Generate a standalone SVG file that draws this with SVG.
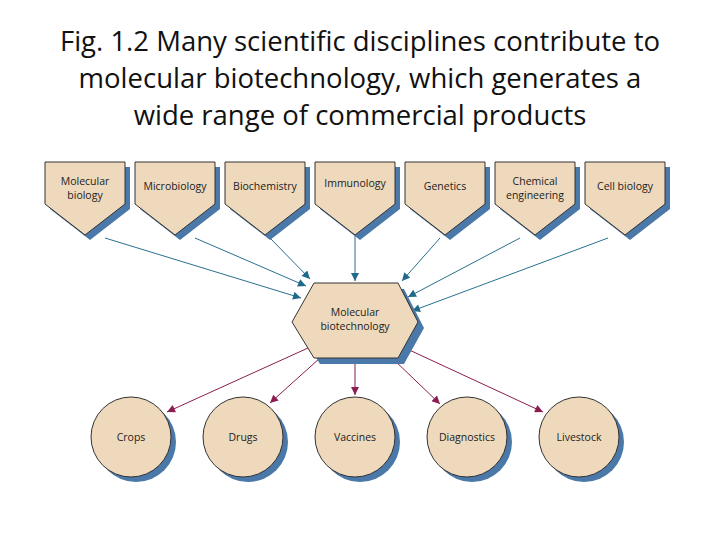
<svg xmlns="http://www.w3.org/2000/svg" width="720" height="540" viewBox="0 0 720 540">
<style>
.t{font-family:"Open Sans","Liberation Sans",sans-serif;font-size:27.5px;fill:#111;text-anchor:middle}
.l{font-family:"Open Sans","Liberation Sans",sans-serif;font-size:10.5px;fill:#222;text-anchor:middle}
.f{fill:#efd9bc;stroke:#333;stroke-width:1}
.s{fill:#4a78a8}
.b{stroke:#2a6f90;stroke-width:1;fill:none;marker-end:url(#ab)}
.m{stroke:#8b1d50;stroke-width:1;fill:none;marker-end:url(#am)}
</style>
<defs>
<marker id="ab" viewBox="0 0 10 10" refX="10" refY="5" markerWidth="10" markerHeight="8" orient="auto" markerUnits="userSpaceOnUse"><path d="M0,0L10,5L0,10z" fill="#1f6a8a"/></marker>
<marker id="am" viewBox="0 0 10 10" refX="10" refY="5" markerWidth="10" markerHeight="8" orient="auto" markerUnits="userSpaceOnUse"><path d="M0,0L10,5L0,10z" fill="#8b1d50"/></marker>
<path id="pent" d="M-40,0H40V42L0,73L-40,42Z"/>
</defs>
<text class="t" x="360" y="51">Fig. 1.2 Many scientific disciplines contribute to</text>
<text class="t" x="360" y="88">molecular biotechnology, which generates a</text>
<text class="t" x="360" y="125">wide range of commercial products</text>
<g id="connectors">
<line class="b" x1="105" y1="238" x2="301" y2="298"/>
<line class="b" x1="195" y1="238" x2="306" y2="286"/>
<line class="b" x1="270" y1="238" x2="310" y2="279"/>
<line class="b" x1="355" y1="236" x2="355" y2="281"/>
<line class="b" x1="440" y1="238" x2="402" y2="281"/>
<line class="b" x1="520" y1="238" x2="408" y2="297"/>
<line class="b" x1="608" y1="238" x2="412" y2="311"/>
<line class="m" x1="308" y1="348" x2="167" y2="412"/>
<line class="m" x1="320" y1="358" x2="270" y2="403"/>
<line class="m" x1="355" y1="360" x2="355" y2="395"/>
<line class="m" x1="392" y1="358" x2="440" y2="404"/>
<line class="m" x1="405" y1="348" x2="543" y2="412"/>
</g>
<g id="n1"><use href="#pent" class="s" x="90" y="167"/><use href="#pent" class="f" x="85" y="162"/><text class="l" x="85" y="185">Molecular</text><text class="l" x="85" y="199">biology</text></g>
<g id="n2"><use href="#pent" class="s" x="180" y="167"/><use href="#pent" class="f" x="175" y="162"/><text class="l" x="175" y="190">Microbiology</text></g>
<g id="n3"><use href="#pent" class="s" x="270" y="167"/><use href="#pent" class="f" x="265" y="162"/><text class="l" x="265" y="190">Biochemistry</text></g>
<g id="n4"><use href="#pent" class="s" x="360" y="167"/><use href="#pent" class="f" x="355" y="162"/><text class="l" x="355" y="187">Immunology</text></g>
<g id="n5"><use href="#pent" class="s" x="450" y="167"/><use href="#pent" class="f" x="445" y="162"/><text class="l" x="445" y="190">Genetics</text></g>
<g id="n6"><use href="#pent" class="s" x="540" y="167"/><use href="#pent" class="f" x="535" y="162"/><text class="l" x="535" y="185">Chemical</text><text class="l" x="535" y="199">engineering</text></g>
<g id="n7"><use href="#pent" class="s" x="630" y="167"/><use href="#pent" class="f" x="625" y="162"/><text class="l" x="625" y="190">Cell biology</text></g>
<g id="hub">
<path class="s" d="M320,289H404L424,328L404,364H320L298,328Z"/>
<path class="f" d="M314,283H398L418,322L398,358H314L292,322Z"/>
<text class="l" x="355" y="316">Molecular</text><text class="l" x="355" y="330">biotechnology</text>
</g>
<g id="c1"><circle class="s" cx="136" cy="442" r="40"/><circle class="f" cx="131" cy="437" r="40"/><text class="l" x="131" y="441">Crops</text></g>
<g id="c2"><circle class="s" cx="248" cy="442" r="40"/><circle class="f" cx="243" cy="437" r="40"/><text class="l" x="243" y="441">Drugs</text></g>
<g id="c3"><circle class="s" cx="360" cy="442" r="40"/><circle class="f" cx="355" cy="437" r="40"/><text class="l" x="355" y="441">Vaccines</text></g>
<g id="c4"><circle class="s" cx="472" cy="442" r="40"/><circle class="f" cx="467" cy="437" r="40"/><text class="l" x="467" y="441">Diagnostics</text></g>
<g id="c5"><circle class="s" cx="584" cy="442" r="40"/><circle class="f" cx="579" cy="437" r="40"/><text class="l" x="579" y="441">Livestock</text></g>
</svg>
